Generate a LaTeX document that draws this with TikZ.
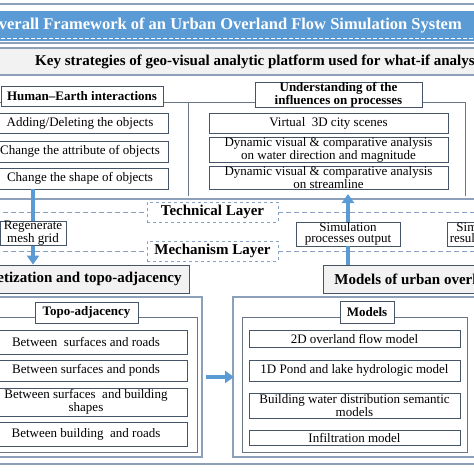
\documentclass[tikz,border=0pt]{standalone}
\usepackage{fontspec}
\setmainfont{Liberation Serif}
\usepackage{xcolor}
\usetikzlibrary{arrows.meta,positioning}
\definecolor{bandblue}{RGB}{91,155,213}
\definecolor{framegray}{RGB}{140,160,186}
\definecolor{boxgray}{RGB}{70,84,104}
\definecolor{linegray}{RGB}{105,118,135}
\definecolor{dashblue}{RGB}{135,160,195}
\definecolor{lightfill}{RGB}{242,242,242}
\begin{document}
\begin{tikzpicture}[
    x=1pt, y=-1pt,
    item box/.style={draw=boxgray, fill=white, line width=0.9pt, inner sep=0pt, align=center, font=\fontsize{13}{11.5}\selectfont},
    head box/.style={item box, font=\bfseries\fontsize{13}{10.5}\selectfont},
    layer box/.style={draw=dashblue, dashed, fill=white, line width=0.9pt, inner sep=0pt, font=\bfseries\fontsize{15}{15}\selectfont},
    layer line/.style={draw=dashblue, line width=1pt, dash pattern=on 5pt off 3pt},
    frame/.style={draw=framegray, line width=1.3pt},
    panel/.style={draw=linegray, line width=0.9pt},
    flow/.style={draw=bandblue, line width=3.5pt, -{Triangle[length=9pt,width=12pt]}},
    flow line/.style={draw=bandblue, line width=3.5pt}
]
    \useasboundingbox (0,0) rectangle (474,474);
    \clip (0,0) rectangle (474,474);

    % Title band
    \draw[frame, line width=2pt] (-5,3.5) -- (480,3.5);
    \fill[bandblue] (-5,11) rectangle (480,41);
    \draw[white, line width=0.8pt, dash pattern=on 4pt off 2pt] (-5,38.5) -- (480,38.5);
    \draw[frame] (-5,43) -- (480,43);
    \node[anchor=east, text=white, inner sep=0pt, font=\bfseries\fontsize{16.5}{16}\selectfont] (title) at (462,25) {Overall Framework of an Urban Overland Flow Simulation System};

    % Key strategies band
    \filldraw[fill=lightfill, draw=framegray, line width=1.3pt] (-5,48) rectangle (480,75);
    \node[anchor=west, inner sep=0pt, font=\bfseries\fontsize{15}{15}\selectfont] (key) at (35,62) {Key strategies of geo-visual analytic platform used for what-if analysis};

    % Upper panels
    \draw[panel] (-5,102) -- (465,102) -- (465,196);
    \draw[panel] (188,102) -- (188,196);
    \draw[frame, line width=2pt] (-5,199) -- (480,199);

    \node[head box, minimum width=162pt, minimum height=20pt] (human) at (82,96) {Human--Earth interactions};
    \node[item box, minimum width=176pt, minimum height=20pt] (adding) at (80,123) {Adding/Deleting the objects};
    \node[item box, minimum width=176pt, minimum height=21pt] (attrib) at (80,151.5) {Change the attribute of objects};
    \node[item box, minimum width=176pt, minimum height=21pt] (shape) at (80,178.5) {Change the shape of objects};

    \node[head box, minimum width=167pt, minimum height=23pt] (influ) at (338.5,94.5) {Understanding of the\\influences on processes};
    \node[item box, minimum width=239pt, minimum height=20pt] (scene) at (328.5,123) {Virtual~~3D city scenes};
    \node[item box, minimum width=239pt, minimum height=25pt] (water) at (328.5,149.5) {Dynamic visual \& comparative analysis\\on water direction and magnitude};
    \node[item box, minimum width=239pt, minimum height=23pt] (stream) at (328.5,177.5) {Dynamic visual \& comparative analysis\\on streamline};

    % Layers
    \node[layer box, minimum width=131pt, minimum height=20pt] (tech) at (212.5,212) {Technical Layer};
    \node[layer box, minimum width=131pt, minimum height=20pt] (mech) at (212.5,251) {Mechanism Layer};
    \draw[layer line] (-5,212) -- (tech.west);
    \draw[layer line] (tech.east) -- (480,212);
    \draw[layer line] (-5,251) -- (mech.west);
    \draw[layer line] (mech.east) -- (480,251);

    \node[item box, minimum width=66pt, minimum height=23pt] (regen) at (33,233.5) {Regenerate\\mesh grid};
    \node[item box, minimum width=104pt, minimum height=24pt] (simout) at (348,234) {Simulation\\processes output};
    \node[item box, minimum width=76pt, minimum height=24pt] (simres) at (485,234) {Simulation\\results output};

    % Lower headers
    \node[item box, fill=lightfill, anchor=east, inner xsep=8pt, minimum height=28pt, font=\bfseries\fontsize{15}{15}\selectfont] (disc) at (190,279) {Discretization and topo-adjacency};
    \node[item box, fill=lightfill, anchor=west, inner xsep=11pt, minimum height=28pt, font=\bfseries\fontsize{15}{15}\selectfont] (urban) at (323,279) {Models of urban overland flow simulation};

    % Lower left panel
    \draw[frame] (-5,297) -| (202,457) -- (-5,457);
    \draw[panel] (-5,317) -| (197,452) -- (-5,452);
    \node[head box, minimum width=103pt, minimum height=21pt] (topo) at (86.5,312.5) {Topo-adjacency};
    \node[item box, minimum width=202pt, minimum height=24pt] (roads) at (86,342) {Between~~surfaces and roads};
    \node[item box, minimum width=202pt, minimum height=21pt] (ponds) at (86,370.5) {Between surfaces and ponds};
    \node[item box, minimum width=202pt, minimum height=28pt] (build) at (86,402) {Between surfaces~~and building\\shapes};
    \node[item box, minimum width=202pt, minimum height=24pt] (broads) at (86,434) {Between building~~and roads};

    % Lower right panel
    \draw[frame] (480,297) -- (233,297) |- (480,457);
    \draw[panel] (242,317) rectangle (467,452);
    \node[head box, minimum width=54pt, minimum height=22pt] (models) at (367,312) {Models};
    \node[item box, minimum width=211pt, minimum height=17pt] (flow2d) at (354.5,338.5) {2D overland flow model};
    \node[item box, minimum width=211pt, minimum height=21pt] (pond1d) at (354.5,370.5) {1D Pond and lake hydrologic model};
    \node[item box, minimum width=211pt, minimum height=25pt] (semantic) at (354.5,405.5) {Building water distribution semantic\\models};
    \node[item box, minimum width=211pt, minimum height=15pt] (infil) at (354.5,437.5) {Infiltration model};

    \draw[frame, line width=2pt] (-5,464) -- (480,464);

    % Flow arrows
    \coordinate (influ end) at (348,194);
    \coordinate (topo right) at (206,377);
    \coordinate (models left) at (234,377);
    \draw[flow line] (shape.south -| regen) -- (regen);
    \draw[flow] (regen) -- (disc.north -| regen);
    \draw[flow line] (urban.north -| simout) -- (simout);
    \draw[flow] (simout) -- (influ end);
    \draw[flow] (topo right) -- (models left);
\end{tikzpicture}
\end{document}
